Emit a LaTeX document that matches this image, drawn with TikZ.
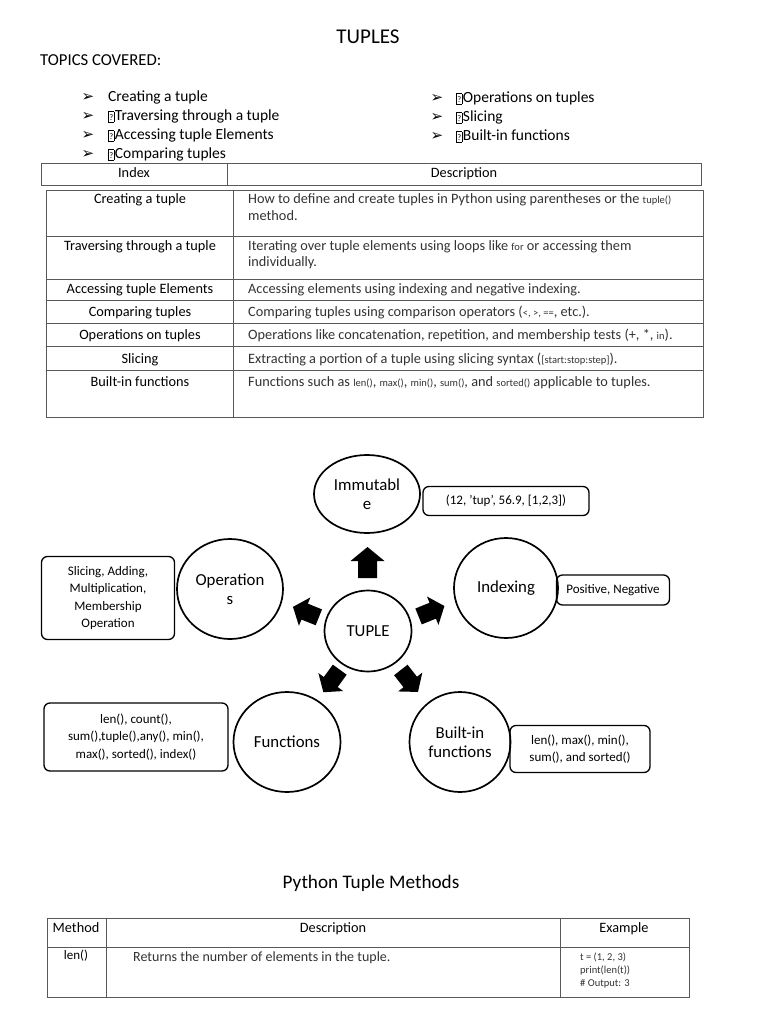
\documentclass[tikz,border=0pt]{standalone}
\usepackage{fontspec}
\setmainfont{Carlito}
\newfontfamily\dingfont{DejaVu Sans}
\usepackage{tikz}
\usetikzlibrary{positioning,shapes.geometric,calc}
\newcommand\qbox{{\setlength\fboxsep{0.7pt}\setlength\fboxrule{0.45pt}\fbox{\rule{0pt}{8.5pt}\fontsize{8.5}{8.5}\selectfont ?}}\hspace{0.5pt}}
\newcommand\tupcode[1]{{\fontsize{10.5}{10.5}\selectfont #1}}
\newcommand\tupbullet{{\dingfont\bfseries\fontsize{15}{15}\selectfont ➢}}
\tikzset{
  tuplepicture/.style={x=1pt, y=-1pt},
  tuplecell/.style={anchor=base, inner sep=0pt, font=\fontsize{14.3}{16}\selectfont},
  tupledesc/.style={anchor=base west, inner sep=0pt, text width=470pt, align=flush left, text=black!80, font=\fontsize{14.3}{17}\selectfont},
  tupleitem/.style={anchor=base west, inner sep=0pt, font=\fontsize{15.5}{17}\selectfont},
  tuplemark/.style={anchor=base, inner sep=0pt},
  tuplering/.style={ellipse, draw, line width=1.7pt, align=flush center, inner sep=0pt, font=\fontsize{16.8}{19}\selectfont},
  tuplenote/.style={draw, rounded corners=6pt, line width=1.3pt, align=flush center, inner sep=2pt, font=\fontsize{13}{17.5}\selectfont},
  tuplerule/.style={draw=black!65, line width=1pt},
  tuplearrow/.pic={\fill (-15.5,-9.5) -- (1.5,-9.5) -- (1.5,-17) -- (15.5,0) -- (1.5,17) -- (1.5,9.5) -- (-15.5,9.5) -- cycle;}
}

\begin{document}
\begin{tikzpicture}[tuplepicture]
\path[use as bounding box, fill=white] (0,0) rectangle (768,1024);

% heading and topics
\node[anchor=base, font=\fontsize{21}{24}\selectfont] (title) at (368,44) {TUPLES};
\node[anchor=base west, inner sep=0pt, font=\fontsize{16.7}{19}\selectfont] (topics) at (40,66) {TOPICS COVERED:};

\node[tuplemark] (m1) at (88,102) {\tupbullet};
\node[tupleitem] (i1) at (108,102) {Creating a tuple};
\node[tuplemark] (m2) at (88,121) {\tupbullet};
\node[tupleitem] (i2) at (108,121) {\qbox Traversing through a tuple};
\node[tuplemark] (m3) at (88,140) {\tupbullet};
\node[tupleitem] (i3) at (108,140) {\qbox Accessing tuple Elements};
\node[tuplemark] (m4) at (88,159) {\tupbullet};
\node[tupleitem] (i4) at (108,159) {\qbox Comparing tuples};
\node[tuplemark] (m5) at (437,103) {\tupbullet};
\node[tupleitem] (i5) at (456,103) {\qbox Operations on tuples};
\node[tuplemark] (m6) at (437,122) {\tupbullet};
\node[tupleitem] (i6) at (456,122) {\qbox Slicing};
\node[tuplemark] (m7) at (437,141) {\tupbullet};
\node[tupleitem] (i7) at (456,141) {\qbox Built-in functions};

% topics table
\draw[tuplerule] (41,164) rectangle (701,186);
\draw[tuplerule] (227,164) -- (227,186);
\draw[tuplerule] (46,191) rectangle (703,417);
\draw[tuplerule] (233,191) -- (233,417);
\foreach \y in {236,279,300,323,346,370}
  \draw[tuplerule] (46,\y) -- (703,\y);

\node[tuplecell] (hidx) at (134,178) {Index};
\node[tuplecell] (hdesc) at (464,178) {Description};

\node[tuplecell] (cr) at (140,204) {Creating a tuple};
\node[tuplecell] (tr) at (140,250) {Traversing through a tuple};
\node[tuplecell] (ac) at (140,293) {Accessing tuple Elements};
\node[tuplecell] (co) at (140,316) {Comparing tuples};
\node[tuplecell] (op) at (140,339) {Operations on tuples};
\node[tuplecell] (sl) at (140,363) {Slicing};
\node[tuplecell] (bi) at (140,386) {Built-in functions};

\node[tupledesc] (crd) at (248,204) {How to define and create tuples in Python using parentheses or the \tupcode{tuple()}\\method.};
\node[tupledesc] (trd) at (248,250) {Iterating over tuple elements using loops like \tupcode{for} or accessing them\\individually.};
\node[tupledesc] (acd) at (248,293) {Accessing elements using indexing and negative indexing.};
\node[tupledesc] (cod) at (248,316) {Comparing tuples using comparison operators (\tupcode{<, >, ==}, etc.).};
\node[tupledesc] (opd) at (248,339) {Operations like concatenation, repetition, and membership tests (+, *, \tupcode{in}).};
\node[tupledesc] (sld) at (248,363) {Extracting a portion of a tuple using slicing syntax (\tupcode{[start:stop:step]}).};
\node[tupledesc] (bid) at (248,386) {Functions such as \tupcode{len()}, \tupcode{max()}, \tupcode{min()}, \tupcode{sum()}, and \tupcode{sorted()} applicable to tuples.};

% tuple diagram
\node[tuplering, minimum width=106, minimum height=78] (imm) at (367,494) {Immutabl\\e};
\node[tuplering, minimum width=104, minimum height=100] (idx) at (506,588) {Indexing};
\node[tuplering, minimum width=106, minimum height=100] (ops) at (230,589) {Operation\\s};
\node[tuplering, minimum width=87, minimum height=81] (tuple) at (368,631) {TUPLE};
\node[tuplering, minimum width=107, minimum height=100] (fun) at (287,742) {Functions};
\node[tuplering, minimum width=101, minimum height=100] (blt) at (460,742) {Built-in\\functions};

\node[tuplenote, minimum width=166, minimum height=29] (immnote) at (506,501) {(12, 'tup', 56.9, [1,2,3])};
\node[tuplenote, minimum width=113, minimum height=30] (idxnote) at (613,590) {Positive, Negative};
\node[tuplenote, minimum width=133, minimum height=83] (opsnote) at (108,598) {Slicing, Adding,\\Multiplication,\\Membership\\Operation};
\node[tuplenote, minimum width=184, minimum height=68] (funnote) at (136,737) {len(), count(),\\sum(),tuple(),any(), min(),\\max(), sorted(), index()};
\node[tuplenote, minimum width=140, minimum height=47] (bltnote) at (580,749) {len(), max(), min(),\\sum(), and sorted()};

\pic[rotate=90] at ($(tuple)!0.5!(imm)$) {tuplearrow};
\pic[rotate=158, scale=0.9] at ($(tuple)!0.45!(ops)$) {tuplearrow};
\pic[rotate=22, scale=0.9] at ($(tuple)!0.46!(idx)$) {tuplearrow};
\pic[rotate=234, scale=0.9] at ($(tuple)!0.45!(fun)$) {tuplearrow};
\pic[rotate=308, scale=0.9] at ($(tuple)!0.45!(blt)$) {tuplearrow};

% methods table
\node[anchor=base, font=\fontsize{19.2}{22}\selectfont] (methods) at (371,888) {Python Tuple Methods};
\draw[tuplerule] (47,918) rectangle (689,997);
\draw[tuplerule] (47,947) -- (689,947);
\draw[tuplerule] (106,918) -- (106,997);
\draw[tuplerule] (560,918) -- (560,997);
\node[tuplecell] (mhead) at (76,932) {Method};
\node[tuplecell] (dhead) at (333,932) {Description};
\node[tuplecell] (ehead) at (624,932) {Example};
\node[tuplecell, font=\fontsize{13}{15}\selectfont] (mlen) at (76,959) {len()};
\node[tupledesc, font=\fontsize{14}{16}\selectfont] (dlen) at (133,961) {Returns the number of elements in the tuple.};
\node[anchor=base west, inner sep=0pt, text width=110pt, align=flush left, text=black!80, font=\fontsize{10.5}{13}\selectfont] (elen) at (580,960) {t = (1, 2, 3)\\print(len(t))\\\# Output: 3};
\end{tikzpicture}
\end{document}
